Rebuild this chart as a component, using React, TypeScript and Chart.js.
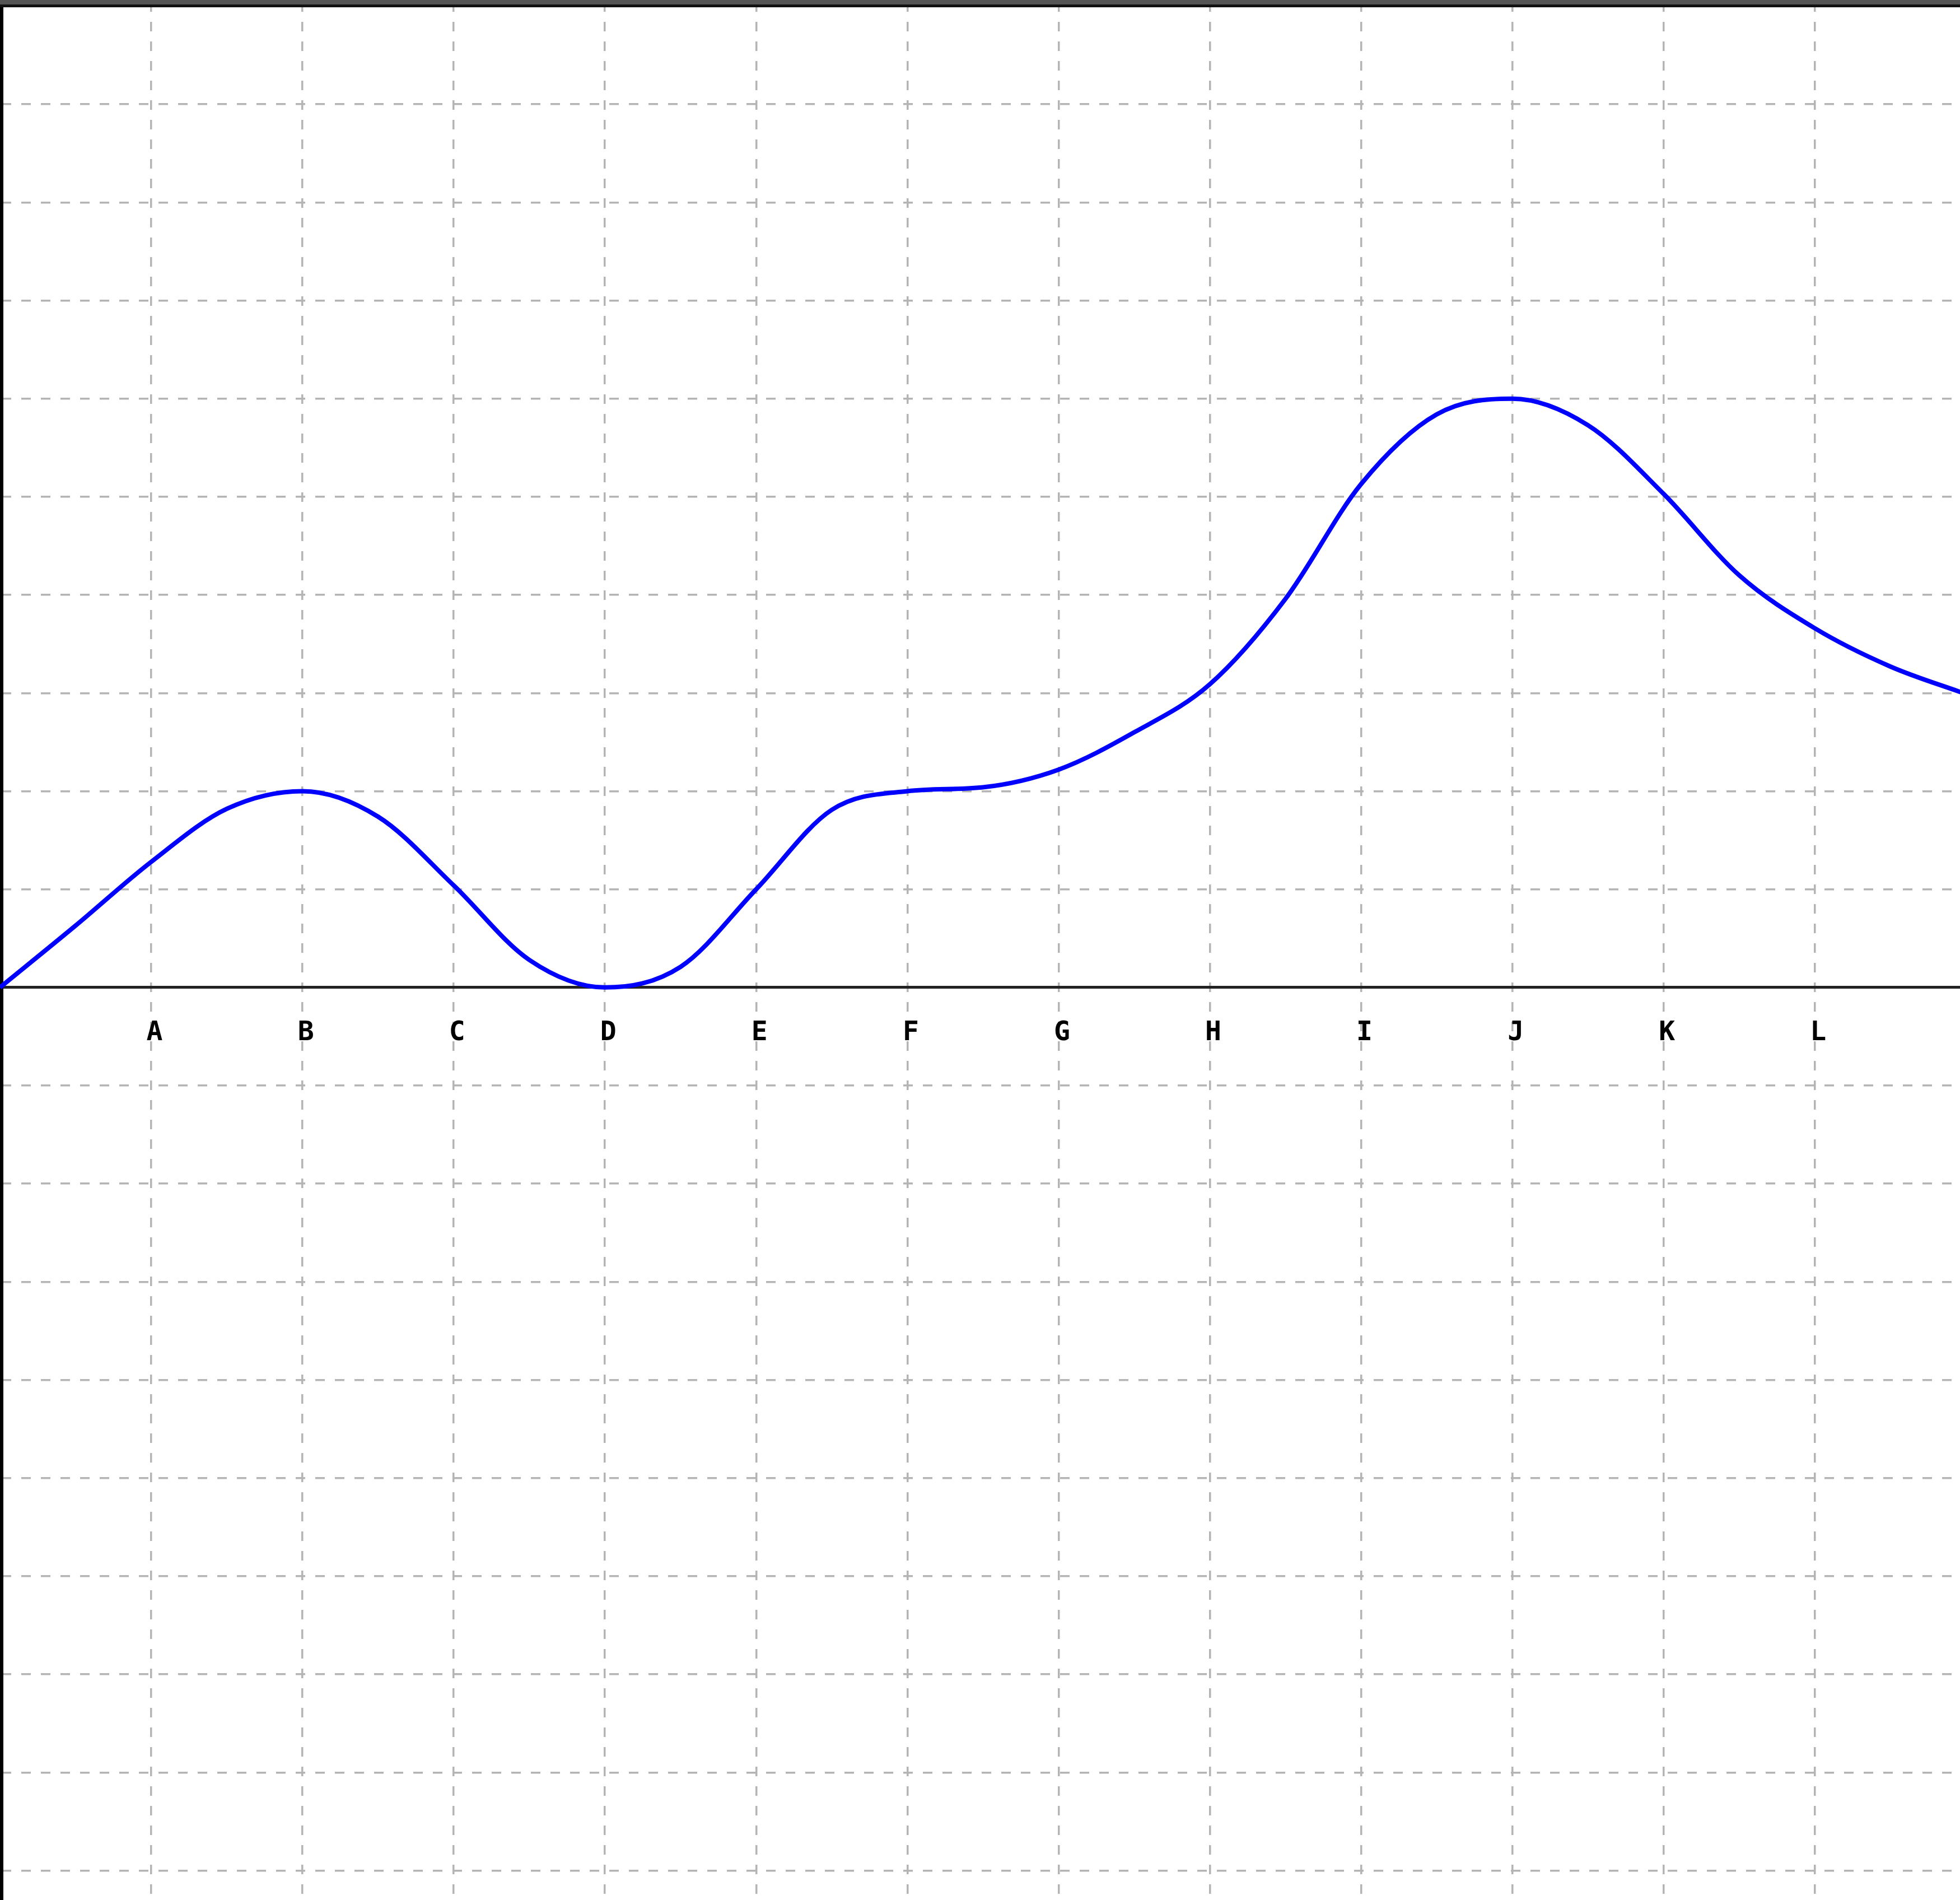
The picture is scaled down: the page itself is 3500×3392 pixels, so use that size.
import { useEffect, useRef } from 'react'
import { Chart, registerables } from 'chart.js'

Chart.register(...registerables)

// letters under the axis, index = x position (0 is the left edge, no label)
const tickLabels = ['', 'A', 'B', 'C', 'D', 'E', 'F', 'G', 'H', 'I', 'J', 'K', 'L']

// curve at half steps between the letters
const sampleX = [0, 0.5, 1, 1.5, 2, 2.5, 3, 3.5, 4, 4.5, 5, 5.5, 6, 6.5, 7, 7.5, 8, 8.5, 9, 9.5, 10, 10.5, 11, 11.5, 12, 12.5, 13]
const sampleY = [0, 0.63, 1.28, 1.82, 2.0, 1.74, 1.04, 0.28, 0, 0.21, 1.0, 1.81, 2.0, 2.04, 2.22, 2.6, 3.09, 3.96, 5.13, 5.84, 6.0, 5.73, 5.03, 4.2, 3.66, 3.27, 2.99]

// visible window of the plot
const xMax = 12.96
const yMin = -9.3
const yMax = 10

const GRID = '#b4b4b4'
const NONE = 'rgba(0,0,0,0)'

const onlyWhole = (scale: any) => {
  scale.ticks = scale.ticks.filter((t: any) => Number.isInteger(t.value))
}

// dark title strip and black top edge of the old-style frame
const frame = {
  id: 'frame',
  afterDraw(chart: Chart) {
    const { ctx, width } = chart
    ctx.save()
    ctx.fillStyle = '#555555'
    ctx.fillRect(0, 0, width, 8)
    ctx.fillStyle = '#111111'
    ctx.fillRect(0, 8, width, 5)
    ctx.restore()
  },
}

export default function App() {
  const canvasRef = useRef<HTMLCanvasElement>(null)
  const chartRef = useRef<Chart | null>(null)

  useEffect(() => {
    if (!canvasRef.current) return
    if (chartRef.current) chartRef.current.destroy()

    chartRef.current = new Chart(canvasRef.current, {
      type: 'line',
      data: {
        datasets: [
          {
            data: sampleX.map((x, i) => ({ x, y: sampleY[i] })),
            borderColor: '#0000ff',
            borderWidth: 8,
            pointRadius: 0,
            fill: false,
            cubicInterpolationMode: 'monotone',
          },
        ],
      },
      options: {
        animation: false,
        responsive: true,
        maintainAspectRatio: false,
        layout: { padding: { top: 11, left: 0, right: 0, bottom: 0 } },
        plugins: { legend: { display: false }, tooltip: { enabled: false } },
        scales: {
          x: {
            type: 'linear',
            position: { y: 0 } as any,
            min: 0,
            max: xMax,
            afterBuildTicks: onlyWhole,
            afterFit: (s: any) => { s.height = 0 },
            ticks: {
              stepSize: 1,
              autoSkip: false,
              maxRotation: 0,
              padding: 0,
              labelOffset: 6,
              color: '#000',
              font: { family: 'DejaVu Sans Mono', weight: 'bold', size: 48 },
              callback: (v: any) => tickLabels[v] ?? '',
            },
            grid: {
              color: (c: any) => (c.tick && c.tick.value === 0 ? NONE : GRID),
              lineWidth: 3.5,
              drawTicks: true,
              tickLength: 53,
              tickColor: NONE,
            },
            border: { display: true, color: '#222', width: 5, dash: [17, 18], dashOffset: 7 },
          },
          y: {
            type: 'linear',
            position: 'left',
            min: yMin,
            max: yMax,
            afterBuildTicks: onlyWhole,
            ticks: { display: false, stepSize: 1 },
            grid: {
              color: (c: any) => (c.tick && c.tick.value === 0 ? NONE : GRID),
              lineWidth: 3.5,
              drawTicks: false,
            },
            border: { display: true, color: '#000', width: 12, dash: [17, 18], dashOffset: 3 },
          },
        },
      },
      plugins: [frame],
    })
    return () => { chartRef.current?.destroy() }
  }, [])

  return (
    <div style={{ position: 'fixed', left: 0, top: 0, width: 3500, height: 3392, background: '#fff' }}>
      <canvas ref={canvasRef} />
    </div>
  )
}
